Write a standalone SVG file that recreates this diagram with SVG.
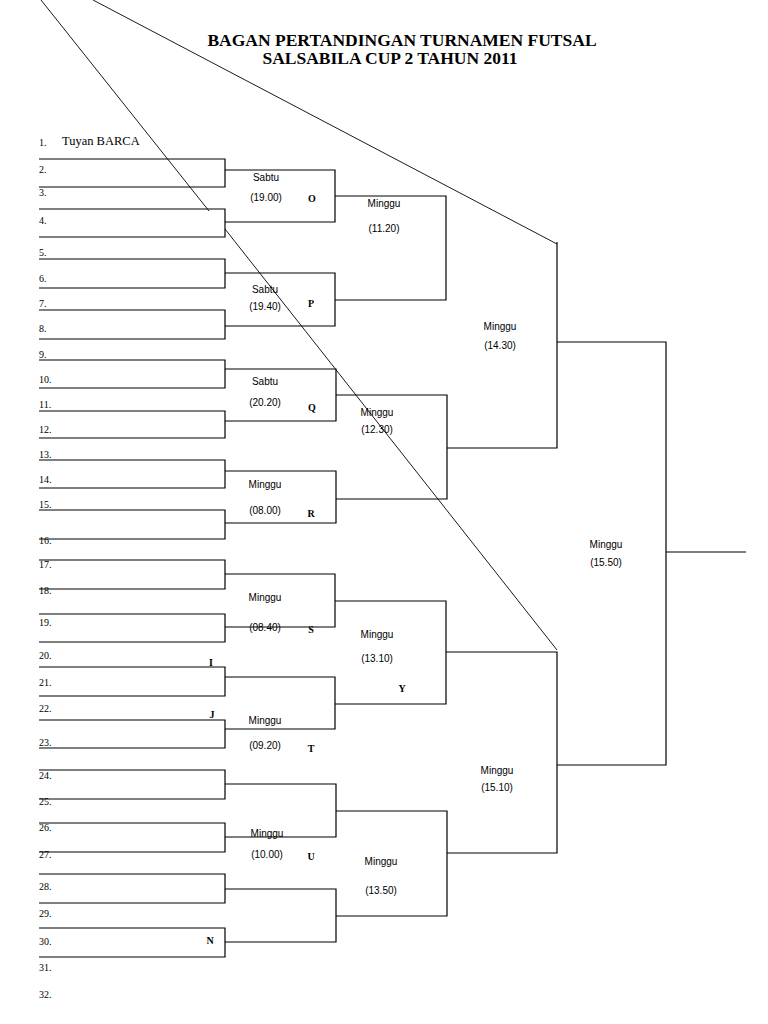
<svg xmlns="http://www.w3.org/2000/svg" width="768" height="1024" viewBox="0 0 768 1024">
<style>
.l{fill:none;stroke:#000;stroke-width:1.2}
.d{fill:none;stroke:#000;stroke-width:0.9}
.n{font-family:"Liberation Serif",serif;font-size:10px}
.s{font-family:"Liberation Sans",sans-serif;font-size:10px;text-anchor:middle}
.b{font-family:"Liberation Serif",serif;font-size:10px;font-weight:bold;text-anchor:middle}
.t{font-family:"Liberation Serif",serif;font-size:17.5px;font-weight:bold;text-anchor:middle}
</style>
<rect width="768" height="1024" fill="#fff"/>
<g id="title">
<text class="t" x="402" y="46">BAGAN PERTANDINGAN TURNAMEN FUTSAL</text>
<text class="t" x="390" y="64">SALSABILA CUP 2 TAHUN 2011</text>
</g>
<g id="connectors">
<path class="l" d="M39 159H225V187H39M39 209H225V237H39M39 259H225V288H39M39 310H225V339H39M39 360H225V388H39M39 411H225V438H39M39 460H225V488H39M39 510H225V539H39M39 560H225V589H39M39 614H225V642H39M39 667H225V696H39M39 720H225V748H39M39 770H225V799H39M39 823H225V852H39M39 874H225V903H39M39 928H225V957H39"/>
<path class="l" d="M225 170H335V222H225M225 273H335V326H225M225 369H336V421H225M225 471H336V523H225M225 574H335V627H225M225 677H335V729H225M225 784H336V837H225M225 889H336V942H225"/>
<path class="l" d="M335 196H446V300H335M336 395H447V499H336M335 601H446V704H335M336 811H447V916H336"/>
<path class="l" d="M447 448H557V242M446 652H557V853H447M557 342H666V765H557M666 552H746"/>
<path class="d" d="M41 0L209 211M225 229L557 650M93 0L557 244"/>
</g>
<g id="numbers">
<text class="n" x="39" y="146">1.</text><text class="n" x="39" y="173">2.</text><text class="n" x="39" y="196">3.</text><text class="n" x="39" y="224">4.</text>
<text class="n" x="39" y="256">5.</text><text class="n" x="39" y="282">6.</text><text class="n" x="39" y="307">7.</text><text class="n" x="39" y="332">8.</text>
<text class="n" x="39" y="358">9.</text><text class="n" x="39" y="383">10.</text><text class="n" x="39" y="408">11.</text><text class="n" x="39" y="433">12.</text>
<text class="n" x="39" y="458">13.</text><text class="n" x="39" y="483">14.</text><text class="n" x="39" y="508">15.</text><text class="n" x="39" y="544">16.</text>
<text class="n" x="39" y="568">17.</text><text class="n" x="39" y="594">18.</text><text class="n" x="39" y="626">19.</text><text class="n" x="39" y="659">20.</text>
<text class="n" x="39" y="686">21.</text><text class="n" x="39" y="712">22.</text><text class="n" x="39" y="746">23.</text><text class="n" x="39" y="779">24.</text>
<text class="n" x="39" y="805">25.</text><text class="n" x="39" y="831">26.</text><text class="n" x="39" y="858">27.</text><text class="n" x="39" y="890">28.</text>
<text class="n" x="39" y="917">29.</text><text class="n" x="39" y="945">30.</text><text class="n" x="39" y="971">31.</text><text class="n" x="39" y="998">32.</text>
<text class="n" x="62" y="145" style="font-size:12.5px">Tuyan BARCA</text>
</g>
<g id="labels">
<text class="s" x="266" y="181">Sabtu</text><text class="s" x="266" y="201">(19.00)</text><text class="b" x="312" y="202">O</text>
<text class="s" x="384" y="207">Minggu</text><text class="s" x="384" y="232">(11.20)</text>
<text class="s" x="265" y="293">Sabtu</text><text class="s" x="265" y="310">(19.40)</text><text class="b" x="311" y="307">P</text>
<text class="s" x="500" y="330">Minggu</text><text class="s" x="500" y="349">(14.30)</text>
<text class="s" x="265" y="385">Sabtu</text><text class="s" x="265" y="406">(20.20)</text><text class="b" x="312" y="411">Q</text>
<text class="s" x="377" y="416">Minggu</text><text class="s" x="377" y="433">(12.30)</text>
<text class="s" x="265" y="488">Minggu</text><text class="s" x="265" y="514">(08.00)</text><text class="b" x="311" y="517">R</text>
<text class="s" x="606" y="548">Minggu</text><text class="s" x="606" y="566">(15.50)</text>
<text class="s" x="265" y="601">Minggu</text><text class="s" x="265" y="631">(08.40)</text><text class="b" x="311" y="633">S</text>
<text class="s" x="377" y="638">Minggu</text><text class="s" x="377" y="662">(13.10)</text><text class="b" x="402" y="692">Y</text>
<text class="b" x="211" y="666">I</text><text class="b" x="212" y="718">J</text>
<text class="s" x="265" y="724">Minggu</text><text class="s" x="265" y="749">(09.20)</text><text class="b" x="311" y="752">T</text>
<text class="s" x="497" y="774">Minggu</text><text class="s" x="497" y="791">(15.10)</text>
<text class="s" x="267" y="837">Minggu</text><text class="s" x="267" y="858">(10.00)</text><text class="b" x="311" y="860">U</text>
<text class="s" x="381" y="865">Minggu</text><text class="s" x="381" y="894">(13.50)</text>
<text class="b" x="210" y="944">N</text>
</g>
</svg>
